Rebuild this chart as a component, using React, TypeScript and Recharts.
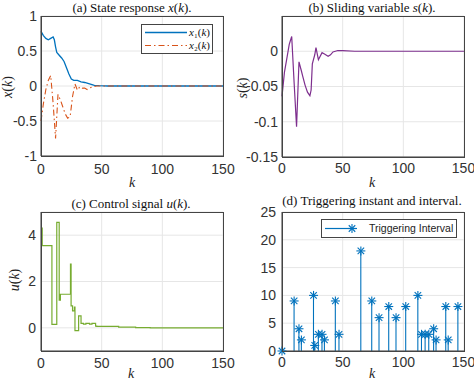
import React from 'react';
import { LineChart, Line, XAxis, YAxis, CartesianGrid, ComposedChart, Bar, Scatter } from 'recharts';

// (a) state response
const x1K = [0, 2, 4, 6, 8, 10, 11, 12, 13, 15, 17, 19, 21, 23, 25, 27, 30, 33, 36, 40, 44, 48, 55, 150];
const x1V = [0.78, 0.72, 0.68, 0.66, 0.68, 0.7, 0.66, 0.56, 0.48, 0.44, 0.4, 0.35, 0.26, 0.17, 0.1, 0.08, 0.08, 0.06, 0.05, 0.03, 0.01, 0.005, 0, 0];
const x2K = [0, 2, 4, 6, 8, 10, 12, 14, 16, 18, 20, 22, 24, 26, 28, 30, 32, 34, 36, 38, 40, 43, 46, 150];
const x2V = [-0.5, -0.25, -0.05, 0.08, 0.15, -0.25, -0.75, -0.12, -0.2, -0.3, -0.4, -0.46, -0.44, -0.15, 0.03, -0.06, -0.01, -0.03, -0.03, -0.05, -0.03, -0.01, 0, 0];

// (b) sliding variable
const sK = [0, 2, 4, 6, 8, 10, 12, 14, 16, 17, 19, 21, 23, 24, 25, 27, 28, 30, 33, 35, 38, 40, 42, 46, 50, 60, 150];
const sV = [-0.064, -0.03, -0.01, 0.01, 0.021, -0.045, -0.107, -0.015, -0.028, -0.035, -0.048, -0.058, -0.063, -0.055, -0.018, -0.005, 0.005, -0.012, -0.002, -0.004, -0.007, -0.005, -0.001, 0.001, 0.001, 0, 0];

// (c) control signal
const uK = [0, 1, 9, 13, 15, 16, 24.3, 24.8, 26, 27.5, 28, 31, 33, 35, 37, 40, 42, 45, 46, 64, 78, 90, 150];
const uV = [4.3, 3.55, 0.15, 4.55, 1.2, 1.45, 2.75, 0.95, 0.73, 0.9, -0.12, 0.52, 0.19, 0.16, 0.19, 0.16, 0.19, 0.07, 0.06, 0.03, 0.01, 0, 0];

// (d) triggering instants and intervals
const trigK = [0, 10, 14, 16, 26, 27, 30, 33, 35, 44, 47, 65, 74, 80, 88, 94, 102, 112, 115, 118, 121, 125, 127, 135, 137, 145];
const trigV = [0, 9, 4, 2, 10, 1, 3, 3, 2, 9, 3, 18, 9, 6, 8, 6, 8, 10, 3, 3, 3, 4, 2, 8, 2, 8];

const kTicks = [0, 50, 100, 150];
const aTicks = [-1, -0.5, 0, 0.5, 1];
const bTicks = [-0.15, -0.1, -0.05, 0, 0.05];
const cTicks = [-1, 0, 2, 4, 5];
const dTicks = [0, 5, 10, 15, 20, 25];

const x1Data = x1K.map((k, i) => ({ k, v: x1V[i] }));
const x2Data = x2K.map((k, i) => ({ k, v: x2V[i] }));
const sData = sK.map((k, i) => ({ k, v: sV[i] }));
const uData = uK.map((k, i) => ({ k, v: uV[i] }));
const trigData = trigK.map((k, i) => ({ k, v: trigV[i] }));

const BLUE = '#0072BD';
const ORANGE = '#D95319';
const PURPLE = '#7E2F8E';
const GREEN = '#77AC30';
const GRID = '#e6e6e6';
const TXT = '#333';
const SANS = '"Liberation Sans", Arial, sans-serif';
const SERIF = '"Liberation Serif", "DejaVu Serif", serif';

const tickStyle = { fontSize: 14, fill: TXT, fontFamily: SANS };

const fmt = (v: number) => String(v);

const StarShape = (props: any) => {
  const { cx, cy } = props;
  const r = 4.5;
  const d = r * 0.72;
  return (
    <g stroke={BLUE} strokeWidth={1.1}>
      <line x1={cx - r} y1={cy} x2={cx + r} y2={cy} />
      <line x1={cx} y1={cy - r} x2={cx} y2={cy + r} />
      <line x1={cx - d} y1={cy - d} x2={cx + d} y2={cy + d} />
      <line x1={cx - d} y1={cy + d} x2={cx + d} y2={cy - d} />
    </g>
  );
};

const abs = (left: number, top: number, extra: any = {}) => ({ position: 'absolute' as const, left, top, ...extra });

const Box = ({ l, t, r, b }: { l: number; t: number; r: number; b: number }) => (
  <div style={abs(l, t, { width: r - l, height: b - t, border: '1px solid #444', boxSizing: 'border-box', pointerEvents: 'none' })} />
);

const Title = ({ cx, cy, children }: any) => (
  <div style={abs(cx, cy, { transform: 'translate(-50%, -50%)', whiteSpace: 'nowrap', fontFamily: SERIF, fontSize: 13, color: '#111' })}>{children}</div>
);

const XLabel = ({ cx, cy }: any) => (
  <div style={abs(cx, cy, { transform: 'translate(-50%, -50%)', fontFamily: SERIF, fontStyle: 'italic', fontSize: 14, lineHeight: '14px', color: '#222' })}>k</div>
);

const YLabel = ({ cx, cy, children }: any) => (
  <div style={abs(cx, cy, { transform: 'translate(-50%, -50%) rotate(-90deg)', whiteSpace: 'nowrap', fontFamily: SERIF, fontSize: 14, color: '#222' })}>{children}</div>
);

const Mk = ({ v }: { v: string }) => <i>{v}</i>;

const LegendMath = ({ x, y, sub }: { x: number; y: number; sub: string }) => (
  <text x={x} y={y} fontFamily={SERIF} fontSize={11} fill="#111">
    <tspan fontStyle="italic">x</tspan>
    <tspan>{sub}(</tspan>
    <tspan fontStyle="italic">k</tspan>
    <tspan>)</tspan>
  </text>
);

export default function App() {
  return (
    <div style={{ position: 'absolute', left: 0, top: 0, width: 474, height: 382, background: '#fff', overflow: 'hidden' }}>
      {/* (a) */}
      <div style={abs(0, 0)}>
        <LineChart width={237} height={191} margin={{ top: 16, right: 14, left: 0, bottom: 0 }}>
          <CartesianGrid stroke={GRID} />
          <XAxis type="number" dataKey="k" domain={[0, 150]} ticks={kTicks} tick={tickStyle} tickLine={false} tickSize={0} tickMargin={8} height={35} axisLine={{ stroke: '#444' }} allowDuplicatedCategory={false} />
          <YAxis type="number" domain={[-1, 1]} ticks={aTicks} tick={tickStyle} tickFormatter={fmt} tickLine={false} tickSize={0} tickMargin={4} width={41} axisLine={{ stroke: '#444' }} />
          <Line data={x1Data} dataKey="v" stroke={BLUE} strokeWidth={1.3} dot={false} isAnimationActive={false} />
          <Line data={x2Data} dataKey="v" stroke={ORANGE} strokeWidth={1.1} strokeDasharray="6 3 1.5 3" dot={false} isAnimationActive={false} />
        </LineChart>
      </div>
      <Box l={41} t={16} r={224} b={157} />
      <div style={abs(141, 24, { width: 72, height: 30, border: '1px solid #444', background: '#fff', boxSizing: 'border-box' })} />
      <svg style={abs(0, 0)} width={237} height={60}>
        <line x1={145} y1={32.5} x2={187} y2={32.5} stroke={BLUE} strokeWidth={1.3} />
        <line x1={145} y1={45.5} x2={187} y2={45.5} stroke={ORANGE} strokeWidth={1.1} strokeDasharray="6 3 1.5 3" />
        <LegendMath x={189} y={36} sub="₁" />
        <LegendMath x={189} y={49} sub="₂" />
      </svg>
      <Title cx={132} cy={8}>(a) State response <Mk v="x" />(<Mk v="k" />).</Title>
      <XLabel cx={132} cy={183} />
      <YLabel cx={8} cy={87}><Mk v="x" />(<Mk v="k" />)</YLabel>

      {/* (b) */}
      <div style={abs(237, 0)}>
        <LineChart width={237} height={191} margin={{ top: 16, right: 10, left: 0, bottom: 0 }}>
          <CartesianGrid stroke={GRID} />
          <XAxis type="number" dataKey="k" domain={[0, 150]} ticks={kTicks} tick={tickStyle} tickLine={false} tickSize={0} tickMargin={6} height={34} axisLine={{ stroke: '#444' }} allowDuplicatedCategory={false} />
          <YAxis type="number" domain={[-0.15, 0.05]} ticks={bTicks} tick={(p: any) => (p.payload.value === 0.05 ? <g /> : <text x={p.x} y={p.y} dy="0.35em" textAnchor="end" style={tickStyle} fill={TXT}>{fmt(p.payload.value)}</text>)} tickLine={false} tickSize={0} tickMargin={4} width={45} axisLine={{ stroke: '#444' }} />
          <Line data={sData} dataKey="v" stroke={PURPLE} strokeWidth={1.2} dot={false} isAnimationActive={false} />
        </LineChart>
      </div>
      <Box l={282} t={16} r={465} b={158} />
      <Title cx={372} cy={8}>(b) Sliding variable <Mk v="s" />(<Mk v="k" />).</Title>
      <XLabel cx={372} cy={183} />
      <YLabel cx={243} cy={88}><Mk v="s" />(<Mk v="k" />)</YLabel>

      {/* (c) */}
      <div style={abs(0, 191)}>
        <LineChart width={237} height={191} margin={{ top: 21, right: 14, left: 0, bottom: 0 }}>
          <CartesianGrid stroke={GRID} />
          <XAxis type="number" dataKey="k" domain={[0, 150]} ticks={kTicks} tick={tickStyle} tickLine={false} tickSize={0} tickMargin={7} height={31} axisLine={{ stroke: '#444' }} allowDuplicatedCategory={false} />
          <YAxis type="number" domain={[-1, 5]} ticks={cTicks} tick={(p: any) => (p.payload.value === -1 || p.payload.value === 5 ? <g /> : <text x={p.x} y={p.y} dy="0.35em" textAnchor="end" style={tickStyle} fill={TXT}>{fmt(p.payload.value)}</text>)} tickLine={false} tickSize={0} tickMargin={5} width={41} axisLine={{ stroke: '#444' }} />
          <Line data={uData} dataKey="v" type="stepAfter" stroke={GREEN} strokeWidth={1.2} dot={false} isAnimationActive={false} />
        </LineChart>
      </div>
      <Box l={41} t={212} r={224} b={352} />
      <Title cx={131} cy={204}>(c) Control signal <Mk v="u" />(<Mk v="k" />).</Title>
      <XLabel cx={131} cy={374} />
      <YLabel cx={15} cy={280}><Mk v="u" />(<Mk v="k" />)</YLabel>

      {/* (d) */}
      <div style={abs(237, 191)}>
        <ComposedChart width={237} height={191} data={trigData} margin={{ top: 21, right: 10, left: 0, bottom: 0 }}>
          <CartesianGrid stroke={GRID} />
          <XAxis type="number" dataKey="k" domain={[0, 150]} ticks={kTicks} tick={tickStyle} tickLine={false} tickSize={0} tickMargin={6} height={31} axisLine={{ stroke: '#444' }} />
          <YAxis type="number" domain={[0, 25]} ticks={dTicks} tick={tickStyle} tickLine={false} tickSize={0} tickMargin={6} width={45} axisLine={{ stroke: '#444' }} />
          <Bar dataKey="v" fill={BLUE} barSize={1.3} isAnimationActive={false} />
          <Scatter dataKey="v" shape={StarShape} isAnimationActive={false} />
        </ComposedChart>
      </div>
      <Box l={282} t={212} r={465} b={352} />
      <div style={abs(321, 219, { width: 136, height: 19, border: '1px solid #444', background: '#fff', boxSizing: 'border-box' })} />
      <svg style={abs(321, 219)} width={40} height={19}>
        <line x1={4} y1={9.5} x2={36} y2={9.5} stroke={BLUE} strokeWidth={1.2} />
        <StarShape cx={31} cy={9.5} />
      </svg>
      <div style={abs(369, 221, { fontFamily: SANS, fontSize: 10.5, lineHeight: '14px', color: '#222', whiteSpace: 'nowrap' })}>Triggering Interval</div>
      <Title cx={372} cy={201}>(d) Triggering instant and interval.</Title>
      <XLabel cx={372} cy={374} />
    </div>
  );
}
